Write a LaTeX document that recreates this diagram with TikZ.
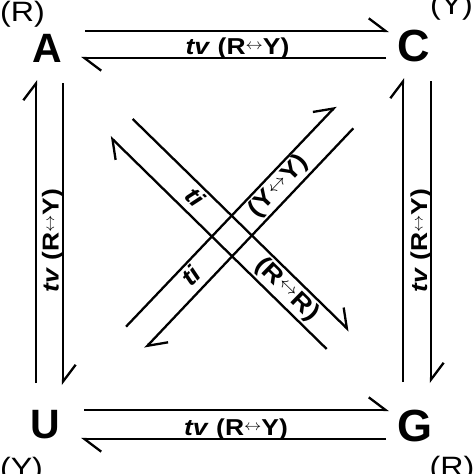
\documentclass[tikz,border=0pt]{standalone}
\usepackage{fontspec}
\setmainfont{Liberation Sans}
\usetikzlibrary{arrows.meta}
\newcommand{\wide}[1]{\scalebox{1.15}[1]{#1}}
\newcommand{\bothWays}[2]{{\fontsize{10}{10}\selectfont\raisebox{#2}{\scalebox{#1}{$\leftrightarrow$}}}}
\newcommand{\tvText}{%%
  \wide{\fontsize{23}{23}\selectfont\bfseries\textit{tv} (R\bothWays{1.5}{4.5pt}Y)}%%
}
\newcommand{\tiText}{\wide{\fontsize{24}{24}\selectfont\bfseries\itshape ti}}
\newcommand{\pairText}[2]{%%
  \wide{\fontsize{24}{24}\selectfont\bfseries(#1\bothWays{1.8}{4.1pt}#2)}%%
}
\newcommand{\colourText}[1]{\wide{\fontsize{28}{28}\selectfont(#1)}}

\begin{document}
\begin{tikzpicture}[%%
  x=1pt,y=-1pt,%%
  lineStyle/.style={line width=2.3pt,-{Straight Barb[harpoon,length=16.8pt,width=25.3pt]}},%%
  labelStyle/.style={inner sep=0pt,anchor=base},%%
  baseStyle/.style={inner sep=0pt,anchor=base,font=\fontsize{#1}{#1}\selectfont\bfseries}
]
\useasboundingbox (0,0) rectangle (474,474);
%%
%% The four bases.
\node[baseStyle=41] (A) at (47,62) {A};
\node[baseStyle=45] (C) at (413.5,61) {C};
\node[baseStyle=41] (U) at (45.5,438) {U};
\node[baseStyle=45] (G) at (415,441) {G};
%%
%% Their colours.
\node[labelStyle] (colourA) at (22.5,21) {\colourText{R}};
\node[labelStyle] (colourC) at (451.5,14) {\colourText{Y}};
\node[labelStyle] (colourU) at (21.5,477) {\colourText{Y}};
\node[labelStyle] (colourG) at (452,476) {\colourText{R}};
%%
%% End points of the harpoons.
\coordinate (acStart) at (85,31);   \coordinate (acEnd) at (389,31);
\coordinate (caStart) at (386,58);  \coordinate (caEnd) at (81,58);
\coordinate (ugStart) at (84,410);  \coordinate (ugEnd) at (389,410);
\coordinate (guStart) at (386,439); \coordinate (guEnd) at (81,439);
\coordinate (uaStart) at (36,383);  \coordinate (uaEnd) at (36,80);
\coordinate (auStart) at (63,83);   \coordinate (auEnd) at (63,385);
\coordinate (gcStart) at (403,382); \coordinate (gcEnd) at (403,78);
\coordinate (cgStart) at (431,81);  \coordinate (cgEnd) at (431,383);
\coordinate (agStart) at (132.7,119); \coordinate (agEnd) at (349.3,330.7);
\coordinate (gaStart) at (326.7,349); \coordinate (gaEnd) at (110,136.7);
\coordinate (ucStart) at (126,326.7); \coordinate (ucEnd) at (336,106);
\coordinate (cuStart) at (353.3,128.3); \coordinate (cuEnd) at (145,348.3);
%%
%% The harpoons.
\draw[lineStyle] (acStart) -- (acEnd);
\draw[lineStyle] (caStart) -- (caEnd);
\draw[lineStyle] (ugStart) -- (ugEnd);
\draw[lineStyle] (guStart) -- (guEnd);
\draw[lineStyle] (uaStart) -- (uaEnd);
\draw[lineStyle] (auStart) -- (auEnd);
\draw[lineStyle] (gcStart) -- (gcEnd);
\draw[lineStyle] (cgStart) -- (cgEnd);
\draw[lineStyle] (agStart) -- (agEnd);
\draw[lineStyle] (gaStart) -- (gaEnd);
\draw[lineStyle] (ucStart) -- (ucEnd);
\draw[lineStyle] (cuStart) -- (cuEnd);
%%
%% Transversions.
\node[labelStyle] (tvTop) at (237.5,54) {\tvText};
\node[labelStyle] (tvBottom) at (236,435) {\tvText};
\node[labelStyle,rotate=90] (tvLeft) at (58.5,240.5) {\tvText};
\node[labelStyle,rotate=90] (tvRight) at (427,240.8) {\tvText};
%%
%% Transitions.
\node[labelStyle,rotate=-44.35] (tiAG) at (189.3,203.1) {\tiText};
\node[labelStyle,rotate=-44.35] (pairAG) at (282.5,294.1) {\pairText{R}{R}};
\node[labelStyle,rotate=46.6] (tiUC) at (197,281.7) {\tiText};
\node[labelStyle,rotate=46.6] (pairUC) at (283.1,190.7) {\pairText{Y}{Y}};
\end{tikzpicture}
\end{document}
